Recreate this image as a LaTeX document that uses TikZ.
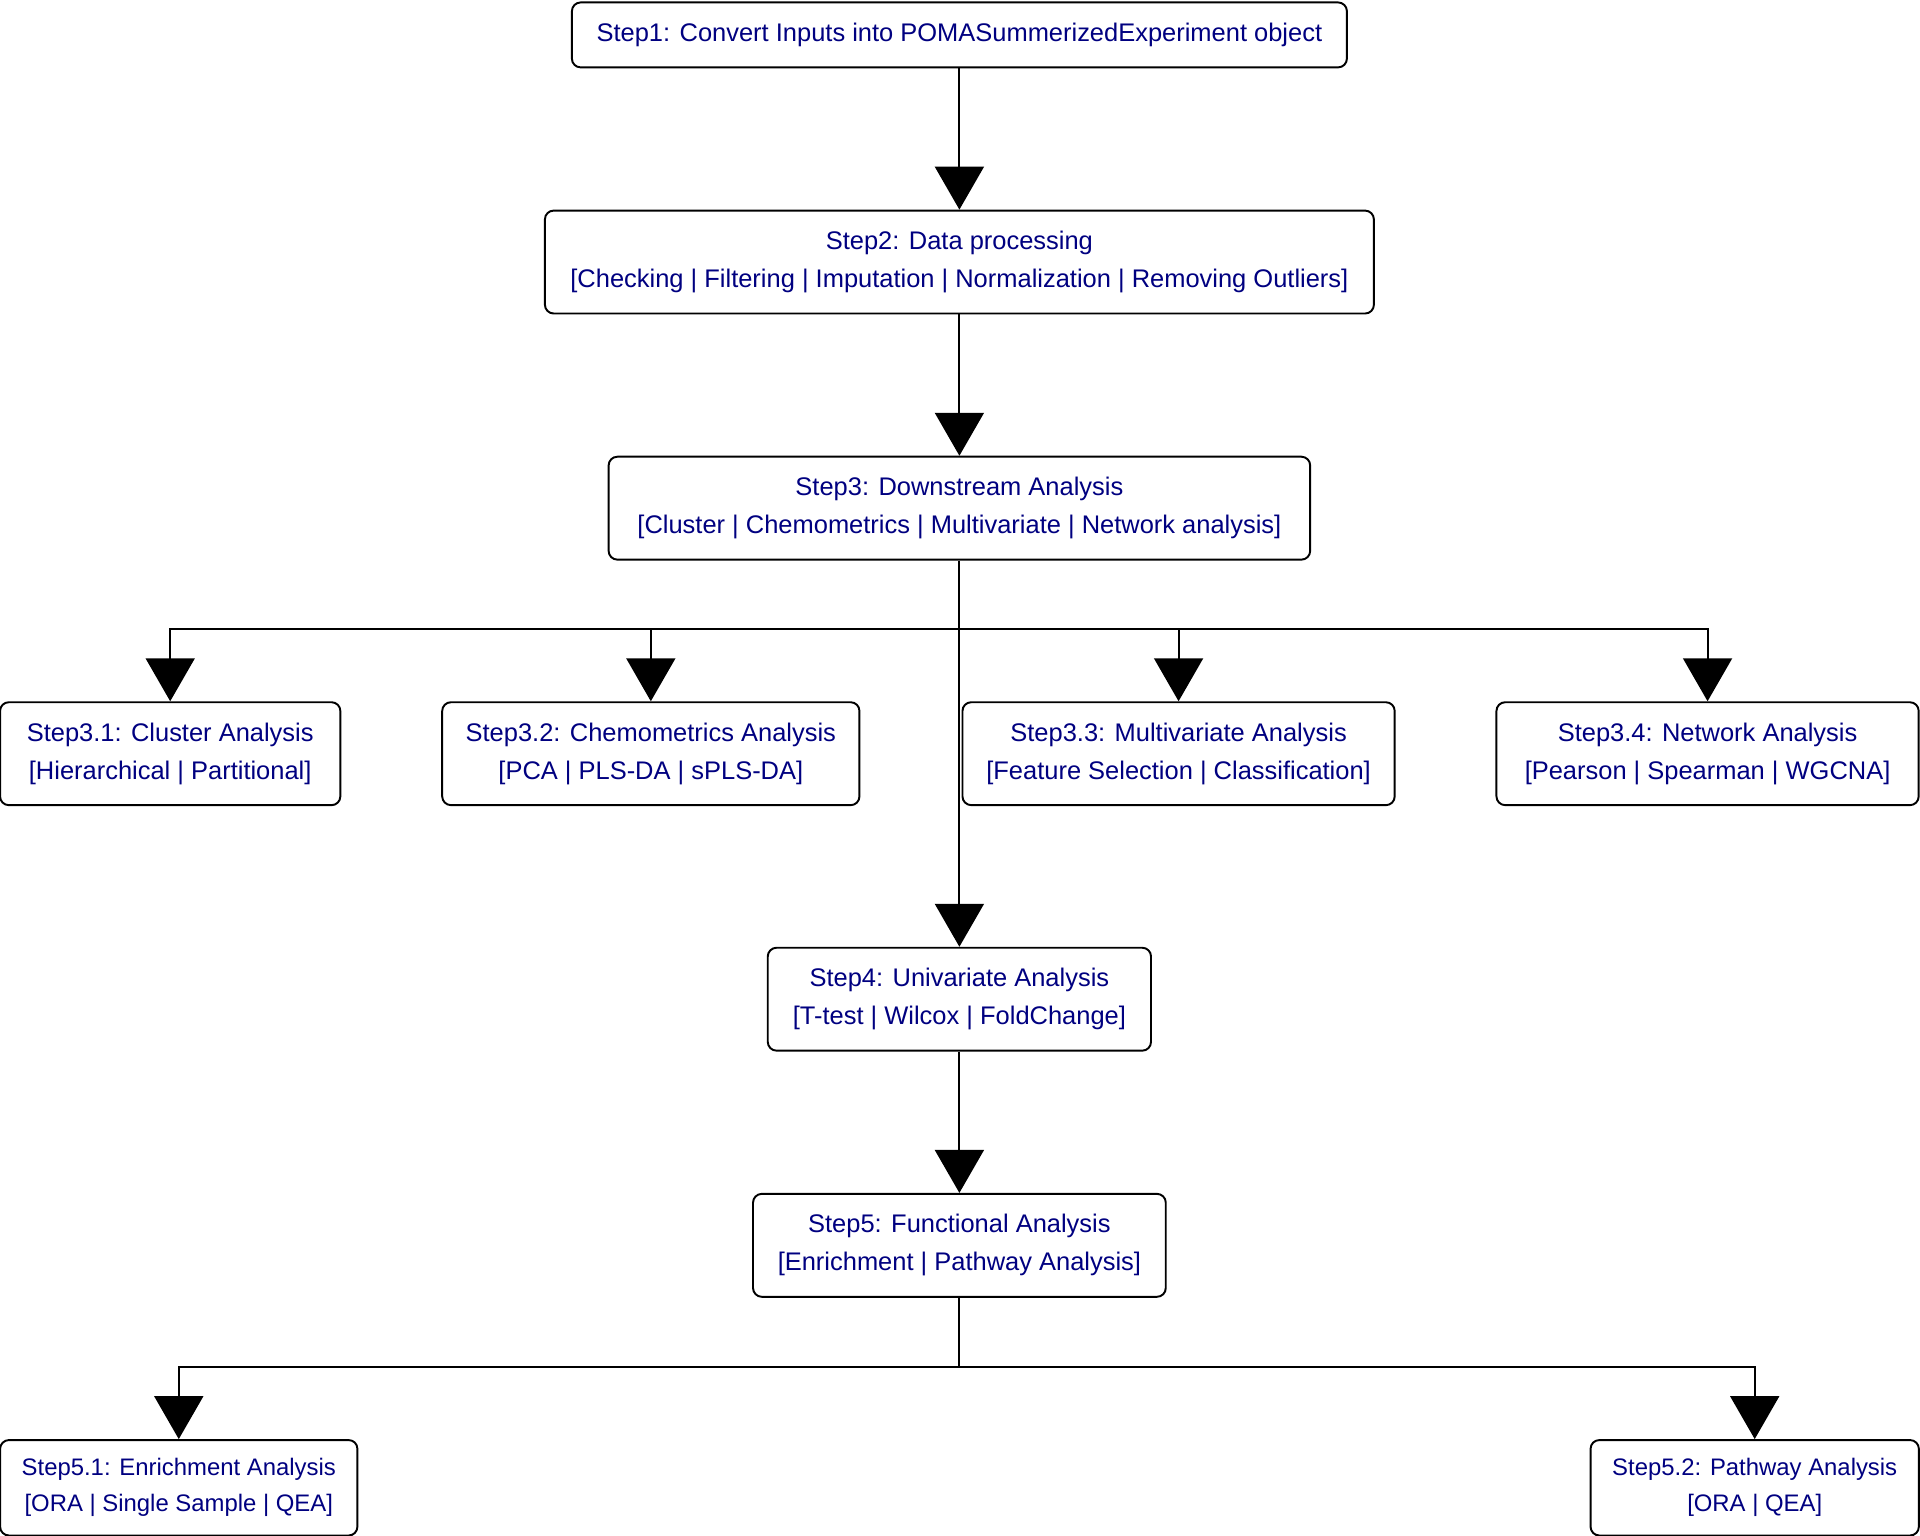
\documentclass[tikz,border=0pt]{standalone}
\usepackage{fontspec}
\setmainfont{Liberation Sans}
\usetikzlibrary{arrows.meta}

\definecolor{stepnavy}{RGB}{0,0,128}

\tikzset{
  stepbox/.style={draw, line width=1.1pt, rounded corners=5pt, text=stepnavy, align=center,
    font=\fontsize{14.5}{21.6}\selectfont, minimum height=2.06cm, inner sep=0pt},
  substep/.style={stepbox, font=\fontsize{13.6}{20.6}\selectfont, minimum height=1.91cm},
  flow/.style={line width=1.1pt, -{Triangle[width=0.98cm, length=0.86cm]}},
  link/.style={line width=1.1pt}
}

\begin{document}
\begin{tikzpicture}[x=0.0245cm, y=-0.0245cm]
    \useasboundingbox (0,0) rectangle (1568,1254);

    % Main steps
    \node[stepbox, minimum width=15.51cm, minimum height=1.30cm] (s1) at (783.5,28.5) {Step1: Convert Inputs into POMASummerizedExperiment object};
    \node[stepbox, minimum width=16.59cm] (s2) at (783.5,214) {Step2: Data processing\\{}[Checking | Filtering | Imputation | Normalization | Removing Outliers]};
    \node[stepbox, minimum width=14.04cm] (s3) at (783.5,415) {Step3: Downstream Analysis\\{}[Cluster | Chemometrics | Multivariate | Network analysis]};
    \node[stepbox, minimum width=7.67cm] (s4) at (783.5,816) {Step4: Univariate Analysis\\{}[T-test | Wilcox | FoldChange]};
    \node[stepbox, minimum width=8.26cm] (s5) at (783.5,1017) {Step5: Functional Analysis\\{}[Enrichment | Pathway Analysis]};

    % Step3 sub-analyses
    \node[stepbox, minimum width=6.81cm] (s31) at (139,615.5) {Step3.1: Cluster Analysis\\{}[Hierarchical | Partitional]};
    \node[stepbox, minimum width=8.35cm] (s32) at (531.5,615.5) {Step3.2: Chemometrics Analysis\\{}[PCA | PLS-DA | sPLS-DA]};
    \node[stepbox, minimum width=8.65cm] (s33) at (962.5,615.5) {Step3.3: Multivariate Analysis\\{}[Feature Selection | Classification]};
    \node[stepbox, minimum width=8.45cm] (s34) at (1394.5,615.5) {Step3.4: Network Analysis\\{}[Pearson | Spearman | WGCNA]};

    % Step5 sub-analyses
    \node[substep, minimum width=7.15cm] (s51) at (146,1215) {Step5.1: Enrichment Analysis\\{}[ORA | Single Sample | QEA]};
    \node[substep, minimum width=6.57cm] (s52) at (1433,1215) {Step5.2: Pathway Analysis\\{}[ORA | QEA]};

    % Junctions
    \coordinate (j3) at (783.5,514);
    \coordinate (j5) at (783.5,1116);

    % Draw arrows
    \draw[flow] (s1) -- (s2);
    \draw[flow] (s2) -- (s3);
    \draw[flow] (s3) -- (s4);
    \draw[flow] (s4) -- (s5);
    \foreach \n in {s31, s32, s33, s34} {
      \draw[flow] (j3) -| (\n);
    }
    \draw[link] (s5) -- (j5);
    \foreach \n in {s51, s52} {
      \draw[flow] (j5) -| (\n);
    }

\end{tikzpicture}
\end{document}
